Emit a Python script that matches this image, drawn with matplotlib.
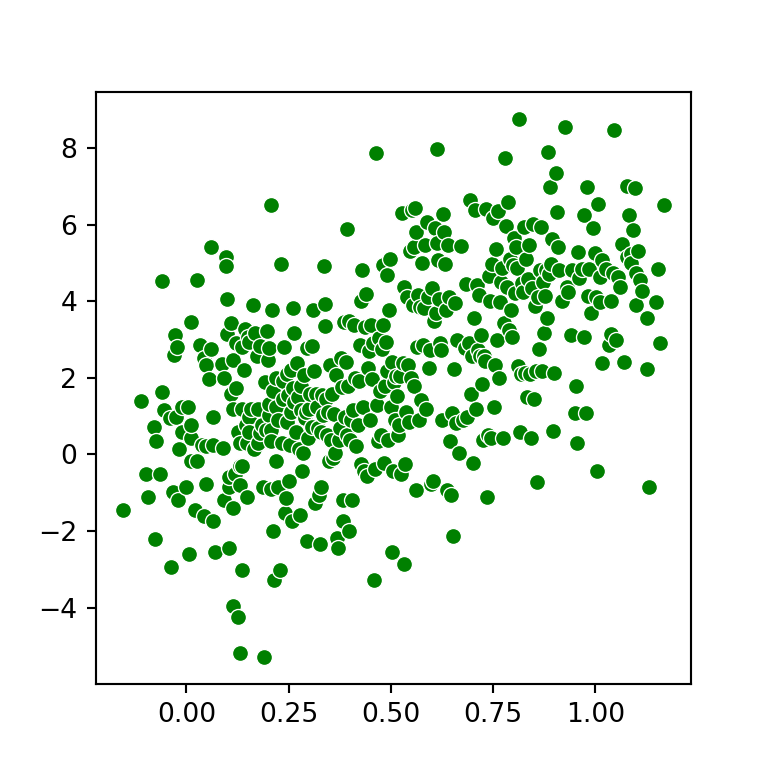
import matplotlib
matplotlib.use("Agg")
import matplotlib.pyplot as plt

# points, grouped by x range
a_x = [-0.155, -0.11, -0.10, -0.095, -0.08, -0.076, -0.074, -0.064, -0.059, -0.059,
       -0.054, -0.04, -0.037, -0.034, -0.03, -0.027, -0.025, -0.022, -0.02, -0.017,
       -0.012, -0.01, 0.0, 0.005, 0.007, 0.01, 0.01, 0.01, 0.012, 0.02,
       0.025, 0.027, 0.032, 0.037, 0.042, 0.042, 0.047, 0.049, 0.049, 0.056,
       0.061, 0.061, 0.064, 0.064, 0.066, 0.071, 0.088, 0.09, 0.093, 0.093,
       0.096, 0.096, 0.098, 0.10, 0.103, 0.103, 0.105, 0.108, 0.11, 0.113,
       0.113, 0.113, 0.113, 0.118, 0.12, 0.12, 0.125, 0.127, 0.13, 0.13,
       0.132, 0.132, 0.135, 0.137, 0.137, 0.137, 0.14, 0.142, 0.145, 0.147,
       0.147, 0.15, 0.152, 0.152, 0.154, 0.157, 0.162, 0.164, 0.167, 0.172,
       0.174, 0.176, 0.181, 0.181, 0.184, 0.186, 0.189, 0.191, 0.194, 0.196,
       0.199]
a_y = [-1.44, 1.39, -0.50, -1.12, 0.73, -2.22, 0.34, -0.52, 4.52, 1.62,
       1.15, 0.94, -2.93, -0.97, 2.61, 3.11, 0.97, 2.80, -1.20, 0.13,
       1.23, 0.58, -0.86, 1.23, -2.59, 0.44, 3.45, -0.16, 0.78, -1.46,
       -0.18, 4.55, 2.85, 0.24, 2.51, -1.62, 0.21, 2.33, -0.76, 1.96,
       5.41, 2.75, 0.97, 0.24, -1.75, -2.54, 2.35, 0.16, 1.99, -1.18,
       5.15, 4.92, 3.14, 4.05, -2.43, -0.84, -0.58, 3.43, 1.57, 2.46,
       1.20, -1.39, -3.97, -0.52, 2.90, 1.73, 0.58, -4.24, -5.18, -0.29,
       0.31, -0.81, 1.20, -0.31, 2.80, -3.01, 2.20, 3.27, 0.76, 0.31,
       -1.12, 3.06, 0.99, 0.58, 2.95, 1.20, 3.90, 0.13, 3.16, 2.56,
       0.31, 1.20, 2.82, 0.55, 0.78, -0.86, -5.28, 1.88, 0.65, 3.22,
       2.48]

b_x = [0.201, 0.201, 0.203, 0.206, 0.206, 0.206, 0.206, 0.208, 0.211, 0.211,
       0.213, 0.218, 0.218, 0.22, 0.223, 0.225, 0.228, 0.23, 0.233, 0.235,
       0.235, 0.238, 0.24, 0.243, 0.245, 0.245, 0.248, 0.25, 0.252, 0.255,
       0.255, 0.257, 0.26, 0.26, 0.262, 0.262, 0.267, 0.27, 0.272, 0.275,
       0.277, 0.279, 0.279, 0.282, 0.284, 0.287, 0.289, 0.292, 0.294, 0.294,
       0.297, 0.299, 0.301, 0.306, 0.306, 0.309, 0.311, 0.314, 0.316, 0.318,
       0.321, 0.323, 0.326, 0.328, 0.328, 0.331, 0.333, 0.336, 0.338, 0.338,
       0.34, 0.343, 0.345, 0.348, 0.35, 0.353, 0.355, 0.358, 0.36, 0.363,
       0.365, 0.368, 0.37, 0.372, 0.375, 0.377, 0.38, 0.382, 0.382, 0.385,
       0.387, 0.39, 0.392, 0.392, 0.395, 0.397, 0.397, 0.40, 0.402]
b_y = [2.77, 1.02, 1.31, 0.63, -0.89, 6.51, 0.34, 3.76, -1.99, 1.67,
       -3.27, -0.18, 1.99, 1.25, -0.86, 0.89, -3.03, 4.97, 0.29, 1.93,
       1.44, 2.80, -1.54, -1.15, 0.84, 2.09, 1.54, -0.68, 0.24, 1.10,
       2.20, -1.75, 1.73, 3.82, 3.16, 1.36, 0.58, 2.38, 1.49, 0.13,
       -1.59, 1.15, 1.78, -0.44, 0.05, 2.07, 0.94, 1.10, 2.77, -2.27,
       0.42, 1.18, 1.59, 2.82, 0.73, 3.76, 2.17, -1.28, 1.57, 1.25,
       0.68, -1.07, -2.33, -0.84, 0.58, 1.54, 1.02, 4.92, 3.92, 3.35,
       1.46, 0.50, 1.10, -0.18, 2.33, 0.37, 1.59, -0.10, 1.05, 0.05,
       2.07, -2.17, -2.43, 0.37, 0.68, 2.51, 1.75, -1.20, -1.73, 3.45,
       0.99, 2.41, 5.88, 0.50, 1.80, 3.48, -2.01, 0.37, 0.89]

c_x = [0.404, 0.407, 0.409, 0.412, 0.414, 0.419, 0.422, 0.424, 0.426, 0.426,
       0.429, 0.431, 0.434, 0.436, 0.439, 0.441, 0.444, 0.446, 0.449, 0.451,
       0.453, 0.456, 0.458, 0.461, 0.463, 0.466, 0.468, 0.471, 0.473, 0.475,
       0.478, 0.48, 0.48, 0.483, 0.485, 0.488, 0.49, 0.49, 0.493, 0.495,
       0.498, 0.50, 0.502, 0.502, 0.505, 0.507, 0.51, 0.512, 0.515, 0.517,
       0.52, 0.522, 0.524, 0.527, 0.529, 0.532, 0.532, 0.534, 0.537, 0.539,
       0.542, 0.544, 0.547, 0.549, 0.551, 0.554, 0.556, 0.556, 0.559, 0.561,
       0.561, 0.564, 0.566, 0.569, 0.571, 0.574, 0.576, 0.578, 0.581, 0.583,
       0.586, 0.588, 0.591, 0.593, 0.596, 0.598]
c_y = [-1.20, 1.15, 3.37, 1.99, 0.21, 0.76, 1.91, 2.85, 4.00, -0.24,
       4.81, 1.25, -0.42, 3.32, 4.18, -0.55, 2.27, 2.69, 0.89, 3.37,
       1.96, 2.90, -3.29, -0.37, 7.87, 1.28, 0.34, 3.03, 1.67, 0.52,
       2.75, 3.37, 4.94, -0.21, 1.80, 2.93, 2.17, 4.68, 0.37, 3.76,
       5.10, 1.23, -2.54, 2.41, -0.42, 1.88, 0.89, 2.04, 1.52, 0.50,
       0.76, 2.04, -0.52, 6.30, 2.38, 4.37, -2.85, -0.24, 1.10, 4.10,
       2.33, 0.84, 5.31, 1.99, 6.38, 3.90, 5.41, 1.78, 6.43, 5.80,
       -0.92, 2.80, 4.16, 0.89, 3.84, 1.41, 4.99, 2.85, 3.82, 5.46,
       1.18, 6.07, 4.10, 2.25, 2.72, -0.78]

d_x = [0.60, 0.603, 0.605, 0.608, 0.61, 0.613, 0.613, 0.615, 0.618, 0.62,
       0.623, 0.625, 0.627, 0.63, 0.632, 0.635, 0.637, 0.64, 0.642, 0.645,
       0.647, 0.65, 0.652, 0.654, 0.657, 0.659, 0.662, 0.667, 0.672, 0.676,
       0.681, 0.684, 0.686, 0.691, 0.694, 0.696, 0.698, 0.701, 0.703, 0.706,
       0.708, 0.711, 0.713, 0.716, 0.718, 0.721, 0.723, 0.725, 0.728, 0.73,
       0.733, 0.735, 0.738, 0.74, 0.743, 0.745, 0.748, 0.75, 0.752, 0.755,
       0.757, 0.76, 0.762, 0.765, 0.767, 0.77, 0.772, 0.775, 0.777, 0.779,
       0.782, 0.784, 0.787, 0.789, 0.792, 0.794, 0.797, 0.799]
d_y = [4.34, -0.68, 3.48, 5.91, 3.69, 5.52, 7.97, 5.07, 4.05, 2.90,
       2.72, 0.89, 6.27, 5.80, 4.97, 3.76, -0.94, 5.46, 4.10, 0.34,
       -1.05, 1.07, -2.14, 2.22, 3.95, 0.81, 2.98, 0.03, 5.44, 0.89,
       2.77, 4.44, 0.99, 2.90, 6.64, 1.59, 2.56, -0.21, 3.56, 6.38,
       1.18, 4.42, 2.72, 4.16, 2.56, 3.11, 1.83, 0.37, 2.56, 2.43,
       6.41, -1.12, 0.50, 4.65, 4.00, 0.42, 4.97, 6.17, 1.23, 2.33,
       5.36, 2.98, 6.35, 2.01, 3.97, 4.50, 4.86, 0.44, 3.43, 7.74,
       5.96, 4.37, 6.59, 3.24, 5.10, 3.76, 3.08, 4.94]

e_x = [0.801, 0.804, 0.806, 0.809, 0.811, 0.814, 0.816, 0.819, 0.821, 0.824,
       0.826, 0.828, 0.831, 0.833, 0.836, 0.838, 0.84, 0.843, 0.846, 0.848,
       0.85, 0.853, 0.855, 0.858, 0.86, 0.863, 0.865, 0.868, 0.87, 0.873,
       0.875, 0.877, 0.88, 0.882, 0.885, 0.887, 0.89, 0.892, 0.894, 0.897,
       0.899, 0.904, 0.907, 0.909, 0.912, 0.919, 0.926, 0.931, 0.934, 0.941,
       0.943, 0.949, 0.953, 0.956, 0.958, 0.961, 0.966, 0.971, 0.973, 0.978,
       0.98, 0.983, 0.985, 0.99, 0.993, 1.0, 1.002, 1.005, 1.007, 1.01,
       1.012, 1.015, 1.017, 1.027, 1.034, 1.037, 1.039, 1.044, 1.046, 1.051,
       1.056, 1.059, 1.064, 1.071, 1.076, 1.078, 1.081, 1.086, 1.088, 1.093,
       1.096, 1.098, 1.10, 1.105, 1.11, 1.113, 1.125, 1.127, 1.13, 1.147,
       1.152, 1.159, 1.168]
e_y = [5.65, 4.21, 5.41, 4.86, 2.30, 8.76, 0.58, 2.09, 4.47, 4.24,
       5.93, 2.14, 5.10, 1.49, 4.58, 5.46, 2.09, 0.44, 4.34, 6.01,
       1.46, 3.87, 2.17, -0.73, 4.10, 2.75, 4.81, 5.93, 2.17, 4.50,
       3.16, 4.13, 4.81, 3.56, 7.90, 4.71, 6.98, 4.97, 5.62, 0.60,
       2.12, 7.35, 6.33, 5.41, 4.81, 4.00, 8.55, 4.37, 4.24, 3.11,
       4.81, 1.07, 1.80, 0.29, 5.28, 4.60, 4.84, 3.06, 6.25, 1.07,
       6.98, 4.13, 4.84, 3.69, 5.91, 5.25, 4.10, -0.44, 6.54, 3.97,
       4.63, 5.07, 2.38, 4.84, 2.85, 4.00, 3.14, 4.73, 8.47, 2.98,
       4.63, 4.37, 5.49, 2.41, 5.15, 7.01, 6.25, 5.23, 4.99, 5.86,
       6.95, 4.73, 3.90, 5.31, 4.55, 4.26, 3.56, 2.22, -0.86, 3.97,
       4.84, 2.90, 6.51]

xs = a_x + b_x + c_x + d_x + e_x
ys = a_y + b_y + c_y + d_y + e_y

fig, ax = plt.subplots(figsize=(4, 4), dpi=192)
ax.scatter(xs, ys, s=36, color="green", edgecolors="white", linewidths=0.5)
ax.set_xticks([0.0, 0.25, 0.5, 0.75, 1.0])
fig.savefig("out.png")
